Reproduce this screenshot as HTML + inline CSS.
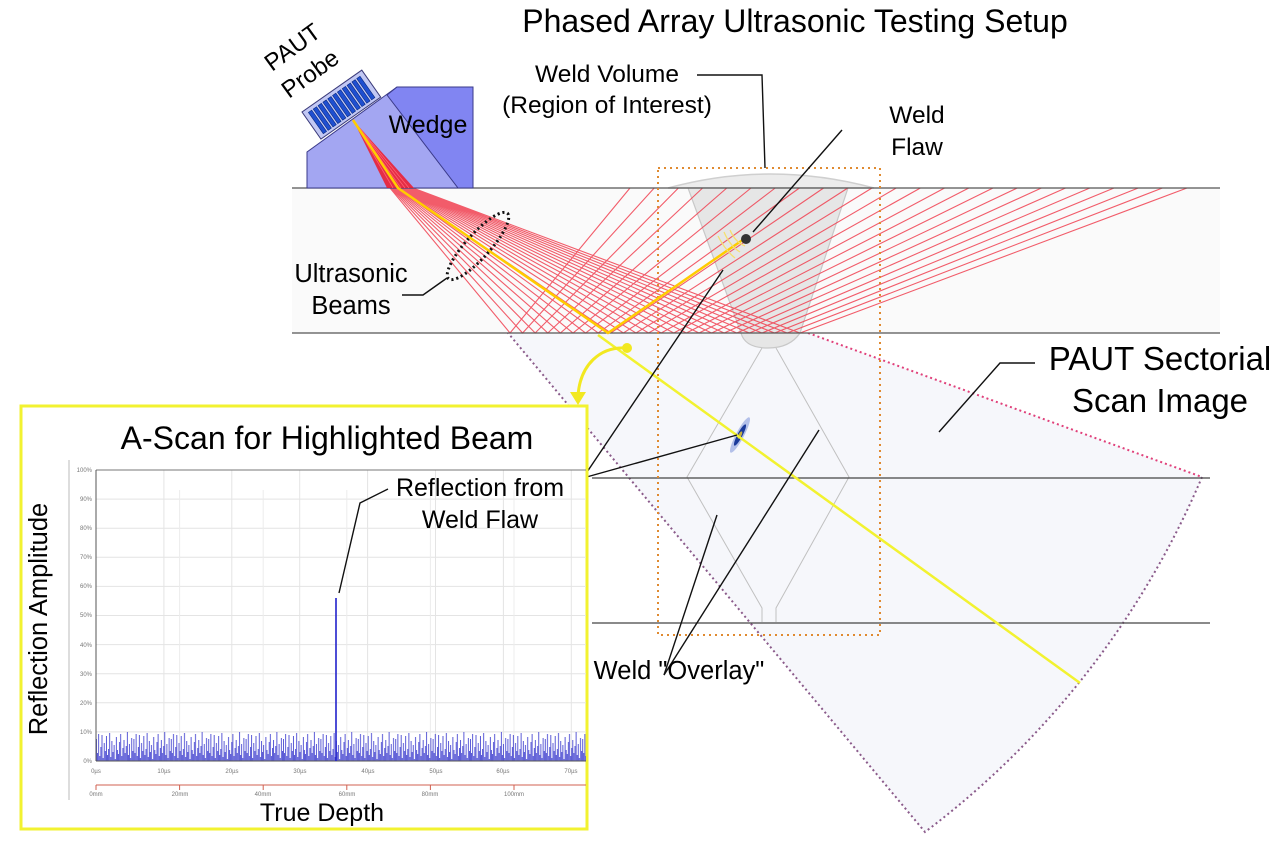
<!DOCTYPE html>
<html><head><meta charset="utf-8"><style>
html,body{margin:0;padding:0;background:#fff;}
svg{display:block;font-family:"Liberation Sans",sans-serif;}
</style></head><body>
<svg width="1280" height="850" viewBox="0 0 1280 850" xmlns="http://www.w3.org/2000/svg">
<defs>
<pattern id="noise" patternUnits="userSpaceOnUse" x="96" y="732" width="37.4" height="29">
<path d="M0.5,29V7M1.6,29V21M2.7,29V2M3.8,29V24M4.9,29V15M6,29V3M7.1,29V26M8.2,29V11M9.3,29V19M10.4,29V4M11.5,29V23M12.6,29V17M13.7,29V1M14.8,29V25M15.9,29V9M17,29V20M18.1,29V13M19.2,29V27M20.3,29V5M21.4,29V18M22.5,29V22M23.6,29V10M24.7,29V2M25.8,29V24M26.9,29V16M28,29V8M29.1,29V21M30.2,29V14M31.3,29V0M32.4,29V23M33.5,29V12M34.6,29V26M35.7,29V6M36.8,29V19" stroke="#3333cc" stroke-width="0.8" fill="none"/>
</pattern>
</defs>
<rect width="1280" height="850" fill="#fff"/>
<!-- sector -->
<path d="M376,175 L1202,477 A868,868 0 0 1 925,832 Z" fill="#f6f7fb"/>
<path d="M376,175 L1202,477" stroke="#e0407a" stroke-width="2" stroke-dasharray="2,3" fill="none"/>
<path d="M1202,477 A868,868 0 0 1 925,832 L376,175" stroke="#8a5a8a" stroke-width="2" stroke-dasharray="2,3" fill="none"/>
<!-- plate -->
<rect x="292" y="188" width="928" height="145" fill="#fafafa"/>
<!-- weld cone -->
<path d="M668,188 Q770,160 874,188 Z" fill="#ececec" stroke="#cfcfcf" stroke-width="1.5"/>
<path d="M688,188 L848,188 L800,333 Q790,348 768,348 Q745,348 741,333 Z" fill="#e6e6e6" stroke="#c8c8c8" stroke-width="1.2"/>
<path d="M762,348 L687,477 L762,608 L762,622 M776,348 L849,477 L776,608 L776,622" stroke="#c0c0c0" stroke-width="1" fill="none"/>
<!-- beams in plate -->
<path stroke="#f04050" stroke-width="1.1" fill="none" opacity="0.85" d="
M390,188L510,333L630,188 M391,188L522.6,333L654.2,188 M392,188L535.2,333L678.4,188 M393,188L547.8,333L702.6,188
M394,188L560.4,333L726.8,188 M395,188L573,333L751,188 M396,188L585.6,333L775.2,188 M397,188L598.2,333L799.4,188
M398,188L610.8,333L823.6,188 M399,188L623.4,333L847.8,188 M400,188L636,333L872,188 M401,188L648.6,333L896.2,188
M402,188L661.2,333L920.4,188 M403,188L673.8,333L944.6,188 M404,188L686.4,333L968.8,188 M405,188L699,333L993,188
M406,188L711.6,333L1017.2,188 M407,188L724.2,333L1041.4,188 M408,188L736.8,333L1065.6,188 M409,188L749.4,333L1089.8,188
M410,188L762,333L1114,188 M411,188L774.6,333L1138.2,188 M412,188L787.2,333L1162.4,188 M413,188L800,333L1187,188"/>
<line x1="292" y1="188" x2="1220" y2="188" stroke="#555" stroke-width="1.3"/>
<line x1="292" y1="333" x2="1220" y2="333" stroke="#555" stroke-width="1.3"/>
<line x1="592" y1="478" x2="1210" y2="478" stroke="#444" stroke-width="1.2"/>
<line x1="592" y1="623" x2="1210" y2="623" stroke="#444" stroke-width="1.2"/>
<!-- weld volume rect -->
<rect x="658" y="168" width="222" height="467" fill="none" stroke="#e08a30" stroke-width="2" stroke-dasharray="2,4"/>
<!-- flaw in sector -->
<ellipse cx="740" cy="435" rx="20" ry="4" transform="rotate(-62 740 435)" fill="#6f8ad8" opacity="0.5"/>
<ellipse cx="740" cy="435" rx="12" ry="2.5" transform="rotate(-62 740 435)" fill="#1a3a9a"/>
<ellipse cx="740" cy="435" rx="4" ry="1.5" transform="rotate(-62 740 435)" fill="#c8b040"/>
<!-- wedge -->
<polygon points="307,188 307,152 397,87 473,87 473,188" fill="#a3a6f2" stroke="#3a3a8a" stroke-width="1"/>
<polygon points="387,95 397,87 473,87 473,188 458,188" fill="#8185f2" stroke="#3a3a8a" stroke-width="1"/>
<!-- probe -->
<g transform="translate(302,112) rotate(-35)">
<rect x="0" y="0" width="73" height="33" fill="#c2c8f4" stroke="#3a3a7a" stroke-width="1"/>
<g fill="#1f4fd0" stroke="#0a2a80" stroke-width="0.6">
<rect x="5" y="4" width="4" height="26"/><rect x="10.9" y="4" width="4" height="26"/><rect x="16.8" y="4" width="4" height="26"/><rect x="22.7" y="4" width="4" height="26"/><rect x="28.6" y="4" width="4" height="26"/><rect x="34.5" y="4" width="4" height="26"/><rect x="40.4" y="4" width="4" height="26"/><rect x="46.3" y="4" width="4" height="26"/><rect x="52.2" y="4" width="4" height="26"/><rect x="58.1" y="4" width="4" height="26"/><rect x="64" y="4" width="4" height="26"/>
</g></g>
<!-- wedge beams -->
<polygon points="353,120 387,188 414,188" fill="#f01828" opacity="0.85"/>
<path d="M353,120L393,188M353,120L397,188M353,120L401,188M353,120L405,188M353,120L409,188" stroke="#ff6070" stroke-width="0.8"/>
<!-- yellow -->
<polyline points="353,120 398,188 608,333 744,239" fill="none" stroke="#ffcc00" stroke-width="2.5"/>
<g stroke="#f5e070" stroke-width="1.3" fill="none"><path d="M718,236 Q725,250 735,258"/><path d="M724,232 Q730,246 740,252"/><path d="M730,230 Q735,242 745,246"/></g>
<circle cx="746" cy="239" r="5" fill="#333"/>
<line x1="598" y1="335" x2="1080" y2="683" stroke="#f2f230" stroke-width="2.5"/>
<circle cx="627" cy="348" r="5" fill="#f2e820"/>
<path d="M627,348 C600,346 580,365 578,396" fill="none" stroke="#f2e820" stroke-width="3"/>
<polygon points="570,392 586,392 578,405" fill="#f2e820"/>
<!-- ellipse -->
<ellipse cx="478" cy="246" rx="44" ry="12" transform="rotate(-48 478 246)" fill="none" stroke="#111" stroke-width="3" stroke-dasharray="2,3"/>
<!-- leaders -->
<g stroke="#111" stroke-width="1.4" fill="none">
<polyline points="402,295 423,295 447,278"/>
<polyline points="697,75 762,75 765,168"/>
<line x1="842" y1="130" x2="753" y2="232"/>
<line x1="583" y1="478" x2="723" y2="270"/>
<line x1="583" y1="478" x2="737" y2="435"/>
<polyline points="1035,363 1000,363 939,432"/>
<line x1="664" y1="675" x2="717" y2="515"/>
<line x1="664" y1="675" x2="819" y2="430"/>
</g>
<!-- text -->
<g fill="#000">
<text x="795" y="32" font-size="32" text-anchor="middle">Phased Array Ultrasonic Testing Setup</text>
<text x="607" y="82" font-size="24.5" text-anchor="middle">Weld Volume</text>
<text x="607" y="113" font-size="24.5" text-anchor="middle">(Region of Interest)</text>
<text x="917" y="123" font-size="24.5" text-anchor="middle">Weld</text>
<text x="917" y="155" font-size="24.5" text-anchor="middle">Flaw</text>
<text x="428" y="133" font-size="25" text-anchor="middle">Wedge</text>
<text font-size="24" transform="translate(272,72) rotate(-36)">PAUT</text>
<text font-size="24" transform="translate(289,99) rotate(-36)">Probe</text>
<text x="351" y="282" font-size="25.5" text-anchor="middle">Ultrasonic</text>
<text x="351" y="314" font-size="25.5" text-anchor="middle">Beams</text>
<text x="1160" y="370" font-size="33" text-anchor="middle">PAUT Sectorial</text>
<text x="1160" y="412" font-size="33" text-anchor="middle">Scan Image</text>
<text x="679" y="679" font-size="25.5" text-anchor="middle">Weld "Overlay"</text>
</g>
<!-- A-scan -->
<rect x="21" y="406" width="566" height="423" fill="#fff" stroke="#f2f230" stroke-width="3"/>
<text x="327" y="449" font-size="32" text-anchor="middle">A-Scan for Highlighted Beam</text>
<line x1="69" y1="460" x2="69" y2="800" stroke="#bbb" stroke-width="1"/>
<g stroke="#e4e4e4" stroke-width="1">
<path d="M96,731.9H586M96,702.8H586M96,673.7H586M96,644.6H586M96,615.5H586M96,586.4H586M96,557.3H586M96,528.2H586M96,499.1H586"/>
<path d="M163.9,470V761M231.8,470V761M299.7,470V761M367.6,470V761M435.5,470V761M503.4,470V761M571.3,470V761"/>
<path d="M179.6,490V761M263.2,490V761M346.8,490V761M430.4,490V761M514,490V761" stroke="#ececec"/>
</g>
<rect x="96" y="732" width="490" height="29" fill="url(#noise)"/>
<line x1="96" y1="470" x2="586" y2="470" stroke="#777"/>
<line x1="96" y1="470" x2="96" y2="761" stroke="#555"/>
<line x1="96" y1="761" x2="586" y2="761" stroke="#555"/>
<line x1="336" y1="761" x2="336" y2="598" stroke="#2222cc" stroke-width="1.6"/>
<g font-size="6" fill="#777" text-anchor="end">
<text x="92" y="472">100%</text><text x="92" y="501">90%</text><text x="92" y="530">80%</text><text x="92" y="559">70%</text><text x="92" y="588">60%</text><text x="92" y="617">50%</text><text x="92" y="647">40%</text><text x="92" y="676">30%</text><text x="92" y="705">20%</text><text x="92" y="734">10%</text><text x="92" y="763">0%</text>
</g>
<g font-size="6" fill="#777" text-anchor="middle">
<text x="96" y="773">0µs</text><text x="164" y="773">10µs</text><text x="232" y="773">20µs</text><text x="300" y="773">30µs</text><text x="368" y="773">40µs</text><text x="436" y="773">50µs</text><text x="503" y="773">60µs</text><text x="571" y="773">70µs</text>
<text x="96" y="796">0mm</text><text x="180" y="796">20mm</text><text x="263" y="796">40mm</text><text x="347" y="796">60mm</text><text x="430" y="796">80mm</text><text x="514" y="796">100mm</text>
</g>
<path d="M96,785H586M96,785V790M179.6,785V790M263.2,785V790M346.8,785V790M430.4,785V790M514,785V790" stroke="#d06050" fill="none"/>
<text x="480" y="496" font-size="25" text-anchor="middle">Reflection from</text>
<text x="480" y="528" font-size="25" text-anchor="middle">Weld Flaw</text>
<polyline points="388,489 360,503 339,593" fill="none" stroke="#111" stroke-width="1.4"/>
<text font-size="25.5" text-anchor="middle" transform="translate(47,619) rotate(-90)">Reflection Amplitude</text>
<text x="322" y="821" font-size="25" text-anchor="middle">True Depth</text>
</svg>
</body></html>
